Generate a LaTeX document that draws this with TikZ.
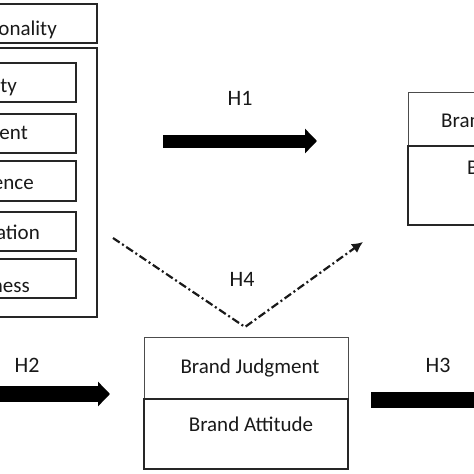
\documentclass[tikz,border=0pt]{standalone}
\usepackage{fontspec}
\setmainfont{Carlito}
\usetikzlibrary{arrows.meta}
\tikzset{
  box/.style={draw=black!85, line width=1.6pt, rectangle, inner sep=0pt},
  boxthin/.style={draw=black!70, line width=1pt, rectangle, inner sep=0pt},
  txt/.style={inner sep=0pt, text=black!90, font=\fontsize{21}{25}\selectfont},
  hlbl/.style={inner sep=0pt, text=black!90, font=\fontsize{22}{26}\selectfont},
  blockarrow/.style={line width=#1, black, -{Triangle[length=12pt, width=24pt]}},
  h4line/.style={line width=2.2pt, black!90, dash pattern=on 8pt off 3pt on 2pt off 3pt}
}
\begin{document}
\begin{tikzpicture}[x=1pt, y=-1pt, >=latex]
\fill[white] (0,0) rectangle (474,474);
\useasboundingbox (0,0) rectangle (474,474);
\clip (0,0) rectangle (474,474);

% Brand personality (left)
\node[box, minimum width=197pt, minimum height=39pt] (head) at (-1.5,23.5) {};
\node[box, minimum width=197pt, minimum height=269pt] (outer) at (-1.5,182.5) {};
\node[box, minimum width=176pt, minimum height=39pt] (d1) at (-12,82.5) {};
\node[box, minimum width=176pt, minimum height=39pt] (d2) at (-12,133.5) {};
\node[box, minimum width=176pt, minimum height=40pt] (d3) at (-12,181) {};
\node[box, minimum width=176pt, minimum height=39pt] (d4) at (-12,231.5) {};
\node[box, minimum width=176pt, minimum height=39pt] (d5) at (-12,278.5) {};
\node[txt, anchor=base east] (thead) at (57,35) {onality};
\node[txt, anchor=base east] (t1) at (17,92) {ty};
\node[txt, anchor=base east] (t2) at (28,139) {ent};
\node[txt, anchor=base east] (t3) at (34,189) {ence};
\node[txt, anchor=base east] (t4) at (40,239) {ation};
\node[txt, anchor=base east] (t5) at (30,292) {ness};

% Brand box (right)
\node[boxthin, minimum width=200pt, minimum height=54pt] (rtop) at (508,119) {};
\node[box, minimum width=200pt, minimum height=79pt] (rbot) at (508,185.5) {};
\node[txt, anchor=base west] (trtop) at (441,127) {Bran};
\node[txt, anchor=base west] (trbot) at (467,174) {B};

% Brand judgment / attitude (bottom)
\node[boxthin, minimum width=204pt, minimum height=62pt] (bj) at (246,368) {};
\node[box, minimum width=204pt, minimum height=70pt] (ba) at (246,434) {};
\node[txt, anchor=base] (tbj) at (250,373) {Brand Judgment};
\node[txt, anchor=base] (tba) at (251,431) {Brand Attitude};

% hypotheses
\coordinate (h1s) at (163,141);
\coordinate (h1e) at (317,141);
\coordinate (h2s) at (-10,394);
\coordinate (h2e) at (110,394);
\coordinate (h3s) at (371,400);
\coordinate (h3e) at (540,400);
\coordinate (h4s) at (113,238);
\coordinate (h4v) at (245,327);
\coordinate (h4e) at (363,242);

\draw[blockarrow=13pt] (h1s) -- (h1e);
\draw[blockarrow=16pt] (h2s) -- (h2e);
\draw[blockarrow=16pt] (h3s) -- (h3e);
\draw[h4line, -{Latex[length=11pt, width=11pt]}] (h4s) -- (h4v) -- (h4e);

\node[hlbl] (lh1) at (240,98) {H1};
\node[hlbl] (lh2) at (27,365) {H2};
\node[hlbl] (lh3) at (438,365) {H3};
\node[hlbl] (lh4) at (242,279) {H4};
\end{tikzpicture}
\end{document}
